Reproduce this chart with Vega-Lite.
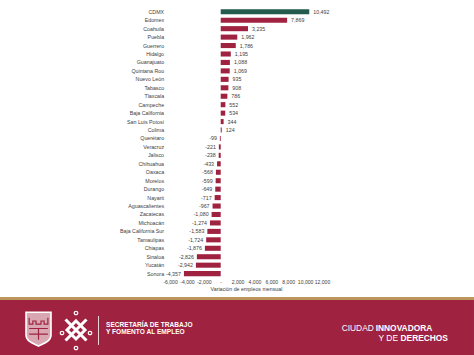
{
  "$schema": "https://vega.github.io/schema/vega-lite/v6.json",
  "background": "white",
  "padding": {"top": 6.7, "left": 0, "right": 0, "bottom": 0},
  "spacing": 0,
  "bounds": "flush",
  "config": {
    "view": {"stroke": null},
    "font": "Liberation Sans",
    "locale": {"number": {"decimal": ".", "thousands": ",", "grouping": [3], "currency": ["$", ""], "minus": "-"}}
  },
  "datasets": {
    "empleo": [
      {"estado": "CDMX", "v": 10492},
      {"estado": "Edomex", "v": 7869},
      {"estado": "Coahuila", "v": 3235},
      {"estado": "Puebla", "v": 1962},
      {"estado": "Guerrero", "v": 1786},
      {"estado": "Hidalgo", "v": 1195},
      {"estado": "Guanajuato", "v": 1088},
      {"estado": "Quintana Roo", "v": 1069},
      {"estado": "Nuevo León", "v": 935},
      {"estado": "Tabasco", "v": 908},
      {"estado": "Tlaxcala", "v": 786},
      {"estado": "Campeche", "v": 552},
      {"estado": "Baja California", "v": 534},
      {"estado": "San Luis Potosí", "v": 344},
      {"estado": "Colima", "v": 124},
      {"estado": "Querétaro", "v": -99},
      {"estado": "Veracruz", "v": -221},
      {"estado": "Jalisco", "v": -238},
      {"estado": "Chihuahua", "v": -433},
      {"estado": "Oaxaca", "v": -568},
      {"estado": "Morelos", "v": -599},
      {"estado": "Durango", "v": -649},
      {"estado": "Nayarit", "v": -717},
      {"estado": "Aguascalientes", "v": -967},
      {"estado": "Zacatecas", "v": -1080},
      {"estado": "Michoacán", "v": -1274},
      {"estado": "Baja California Sur", "v": -1583},
      {"estado": "Tamaulipas", "v": -1724},
      {"estado": "Chiapas", "v": -1876},
      {"estado": "Sinaloa", "v": -2826},
      {"estado": "Yucatán", "v": -2942},
      {"estado": "Sonora", "v": -4357}
    ]
  },
  "vconcat": [
    {
      "width": 474,
      "height": 272,
      "data": {"name": "empleo"},
      "encoding": {
        "y": {"field": "estado", "type": "nominal", "sort": null, "axis": null, "scale": {"paddingInner": 0.4, "paddingOuter": 0.3}}
      },
      "layer": [
        {
          "mark": {"type": "bar"},
          "encoding": {
            "x": {
              "field": "v", "type": "quantitative",
              "scale": {"domain": [-26150, 30010], "nice": false, "zero": false},
              "axis": {
                "values": [-6000, -4000, -2000, 0, 2000, 4000, 6000, 8000, 10000, 12000],
                "labelExpr": "datum.value === 0 ? '-' : format(datum.value, ',')",
                "title": "Variación de empleos mensual",
                "titleX": 246,
                "titleFontSize": 5.3,
                "titleFontWeight": "normal",
                "titleColor": "#404040",
                "titleFont": "Liberation Sans",
                "titlePadding": 2,
                "labelFontSize": 5.1,
                "labelColor": "#404040",
                "labelFont": "Liberation Sans",
                "labelPadding": 1,
                "labelFlush": false,
                "labelOverlap": false,
                "domain": false,
                "ticks": false,
                "grid": false
              }
            },
            "color": {"condition": {"test": "datum.estado === 'CDMX'", "value": "#235b4e"}, "value": "#9f2241"}
          }
        },
        {
          "mark": {"type": "text", "align": "right", "dx": -6, "fontSize": 5.3, "color": "#404040", "font": "Liberation Sans"},
          "encoding": {"x": {"datum": -6000, "type": "quantitative"}, "text": {"field": "estado", "type": "nominal"}}
        },
        {
          "transform": [{"filter": "datum.v >= 0"}],
          "mark": {"type": "text", "align": "left", "dx": 4, "fontSize": 5.3, "color": "#404040", "font": "Liberation Sans"},
          "encoding": {"x": {"field": "v", "type": "quantitative"}, "text": {"field": "v", "type": "quantitative", "format": ","}}
        },
        {
          "transform": [{"filter": "datum.v < 0"}],
          "mark": {"type": "text", "align": "right", "dx": -3, "fontSize": 5.3, "color": "#404040", "font": "Liberation Sans"},
          "encoding": {"x": {"field": "v", "type": "quantitative"}, "text": {"field": "v", "type": "quantitative", "format": ","}}
        }
      ]
    },
    {
      "width": 474,
      "height": 76.3,
      "data": {"values": [{}]},
      "layer": [
        {
          "mark": {"type": "rect", "color": "#bc955c"},
          "encoding": {
            "x": {"datum": 0, "type": "quantitative", "scale": {"domain": [0, 474], "nice": false, "zero": false}, "axis": null},
            "x2": {"datum": 474},
            "y": {"datum": 297, "type": "quantitative", "scale": {"domain": [278.7, 355], "reverse": true, "nice": false, "zero": false}, "axis": null},
            "y2": {"datum": 300}
          }
        },
        {
          "mark": {"type": "rect", "color": "#9f2241"},
          "encoding": {
            "x": {"datum": 0, "type": "quantitative", "axis": null},
            "x2": {"datum": 474},
            "y": {"datum": 300, "type": "quantitative", "axis": null},
            "y2": {"datum": 356}
          }
        },
        {
          "mark": {"type": "rule", "color": "white", "strokeWidth": 0.8},
          "encoding": {
            "x": {"datum": 98.5, "type": "quantitative", "axis": null},
            "y": {"datum": 316, "type": "quantitative", "axis": null},
            "y2": {"datum": 345}
          }
        },
        {
          "mark": {"type": "point", "shape": "M-1,-1.3 L1,-1.3 L1,0.5 C1,1.05 0.4,1.2 0,1.4 C-0.4,1.2 -1,1.05 -1,0.5 Z", "filled": true, "fill": "#d9a7b1", "stroke": "white", "strokeWidth": 1.6, "size": 625, "opacity": 1},
          "encoding": {
            "x": {"datum": 38.5, "type": "quantitative", "axis": null},
            "y": {"datum": 328.5, "type": "quantitative", "axis": null}
          }
        },
        {
          "mark": {"type": "point", "shape": "M-0.75,-0.85 L-0.75,-0.35 L-0.45,-0.35 L-0.45,-0.6 L-0.2,-0.6 L-0.2,-0.35 L0.2,-0.35 L0.2,-0.6 L0.45,-0.6 L0.45,-0.35 L0.75,-0.35 L0.75,-0.85 M-0.75,0 L0.75,0 M-0.75,0.45 L0.75,0.45 M0,0 L0,0.9", "filled": false, "stroke": "#9f2241", "strokeWidth": 1.2, "size": 625, "opacity": 1},
          "encoding": {
            "x": {"datum": 38.5, "type": "quantitative", "axis": null},
            "y": {"datum": 328.5, "type": "quantitative", "axis": null}
          }
        },
        {
          "mark": {"type": "point", "shape": "M-0.7,-0.7 L0.7,0.7 M0.7,-0.7 L-0.7,0.7 M0,-0.6 L0.6,0 L0,0.6 L-0.6,0 Z", "filled": false, "stroke": "white", "strokeWidth": 3, "size": 900, "opacity": 1},
          "encoding": {
            "x": {"datum": 76, "type": "quantitative", "axis": null},
            "y": {"datum": 330, "type": "quantitative", "axis": null}
          }
        },
        {
          "mark": {"type": "point", "shape": "circle", "filled": false, "stroke": "white", "strokeWidth": 1.2, "size": 12, "opacity": 1},
          "encoding": {
            "x": {"datum": 76, "type": "quantitative", "axis": null},
            "y": {"datum": 313, "type": "quantitative", "axis": null}
          }
        },
        {
          "mark": {"type": "point", "shape": "circle", "filled": false, "stroke": "white", "strokeWidth": 1.2, "size": 12, "opacity": 1},
          "encoding": {
            "x": {"datum": 76, "type": "quantitative", "axis": null},
            "y": {"datum": 348, "type": "quantitative", "axis": null}
          }
        },
        {
          "mark": {"type": "point", "shape": "circle", "filled": false, "stroke": "white", "strokeWidth": 1.2, "size": 12, "opacity": 1},
          "encoding": {
            "x": {"datum": 62, "type": "quantitative", "axis": null},
            "y": {"datum": 333, "type": "quantitative", "axis": null}
          }
        },
        {
          "mark": {"type": "point", "shape": "circle", "filled": false, "stroke": "white", "strokeWidth": 1.2, "size": 12, "opacity": 1},
          "encoding": {
            "x": {"datum": 90, "type": "quantitative", "axis": null},
            "y": {"datum": 333, "type": "quantitative", "axis": null}
          }
        },
        {
          "mark": {"type": "text", "text": "SECRETARÍA DE TRABAJO", "align": "left", "baseline": "middle", "fontSize": 6.6, "fontWeight": "bold", "color": "white", "font": "Liberation Sans"},
          "encoding": {
            "x": {"datum": 106, "type": "quantitative", "axis": null},
            "y": {"datum": 324.7, "type": "quantitative", "axis": null}
          }
        },
        {
          "mark": {"type": "text", "text": "Y FOMENTO AL EMPLEO", "align": "left", "baseline": "middle", "fontSize": 6.6, "fontWeight": "bold", "color": "white", "font": "Liberation Sans"},
          "encoding": {
            "x": {"datum": 106, "type": "quantitative", "axis": null},
            "y": {"datum": 332.5, "type": "quantitative", "axis": null}
          }
        },
        {
          "mark": {"type": "text", "text": "CIUDAD", "align": "left", "baseline": "middle", "fontSize": 8.4, "color": "white", "font": "Liberation Sans"},
          "encoding": {
            "x": {"datum": 341.7, "type": "quantitative", "axis": null},
            "y": {"datum": 327.7, "type": "quantitative", "axis": null}
          }
        },
        {
          "mark": {"type": "text", "text": "INNOVADORA", "align": "left", "baseline": "middle", "fontSize": 8.4, "fontWeight": "bold", "color": "white", "font": "Liberation Sans"},
          "encoding": {
            "x": {"datum": 375.7, "type": "quantitative", "axis": null},
            "y": {"datum": 327.7, "type": "quantitative", "axis": null}
          }
        },
        {
          "mark": {"type": "text", "text": "Y DE", "align": "right", "baseline": "middle", "fontSize": 8.4, "color": "white", "font": "Liberation Sans"},
          "encoding": {
            "x": {"datum": 398, "type": "quantitative", "axis": null},
            "y": {"datum": 337.7, "type": "quantitative", "axis": null}
          }
        },
        {
          "mark": {"type": "text", "text": "DERECHOS", "align": "left", "baseline": "middle", "fontSize": 8.4, "fontWeight": "bold", "color": "white", "font": "Liberation Sans"},
          "encoding": {
            "x": {"datum": 400.5, "type": "quantitative", "axis": null},
            "y": {"datum": 337.7, "type": "quantitative", "axis": null}
          }
        }
      ]
    }
  ]
}
